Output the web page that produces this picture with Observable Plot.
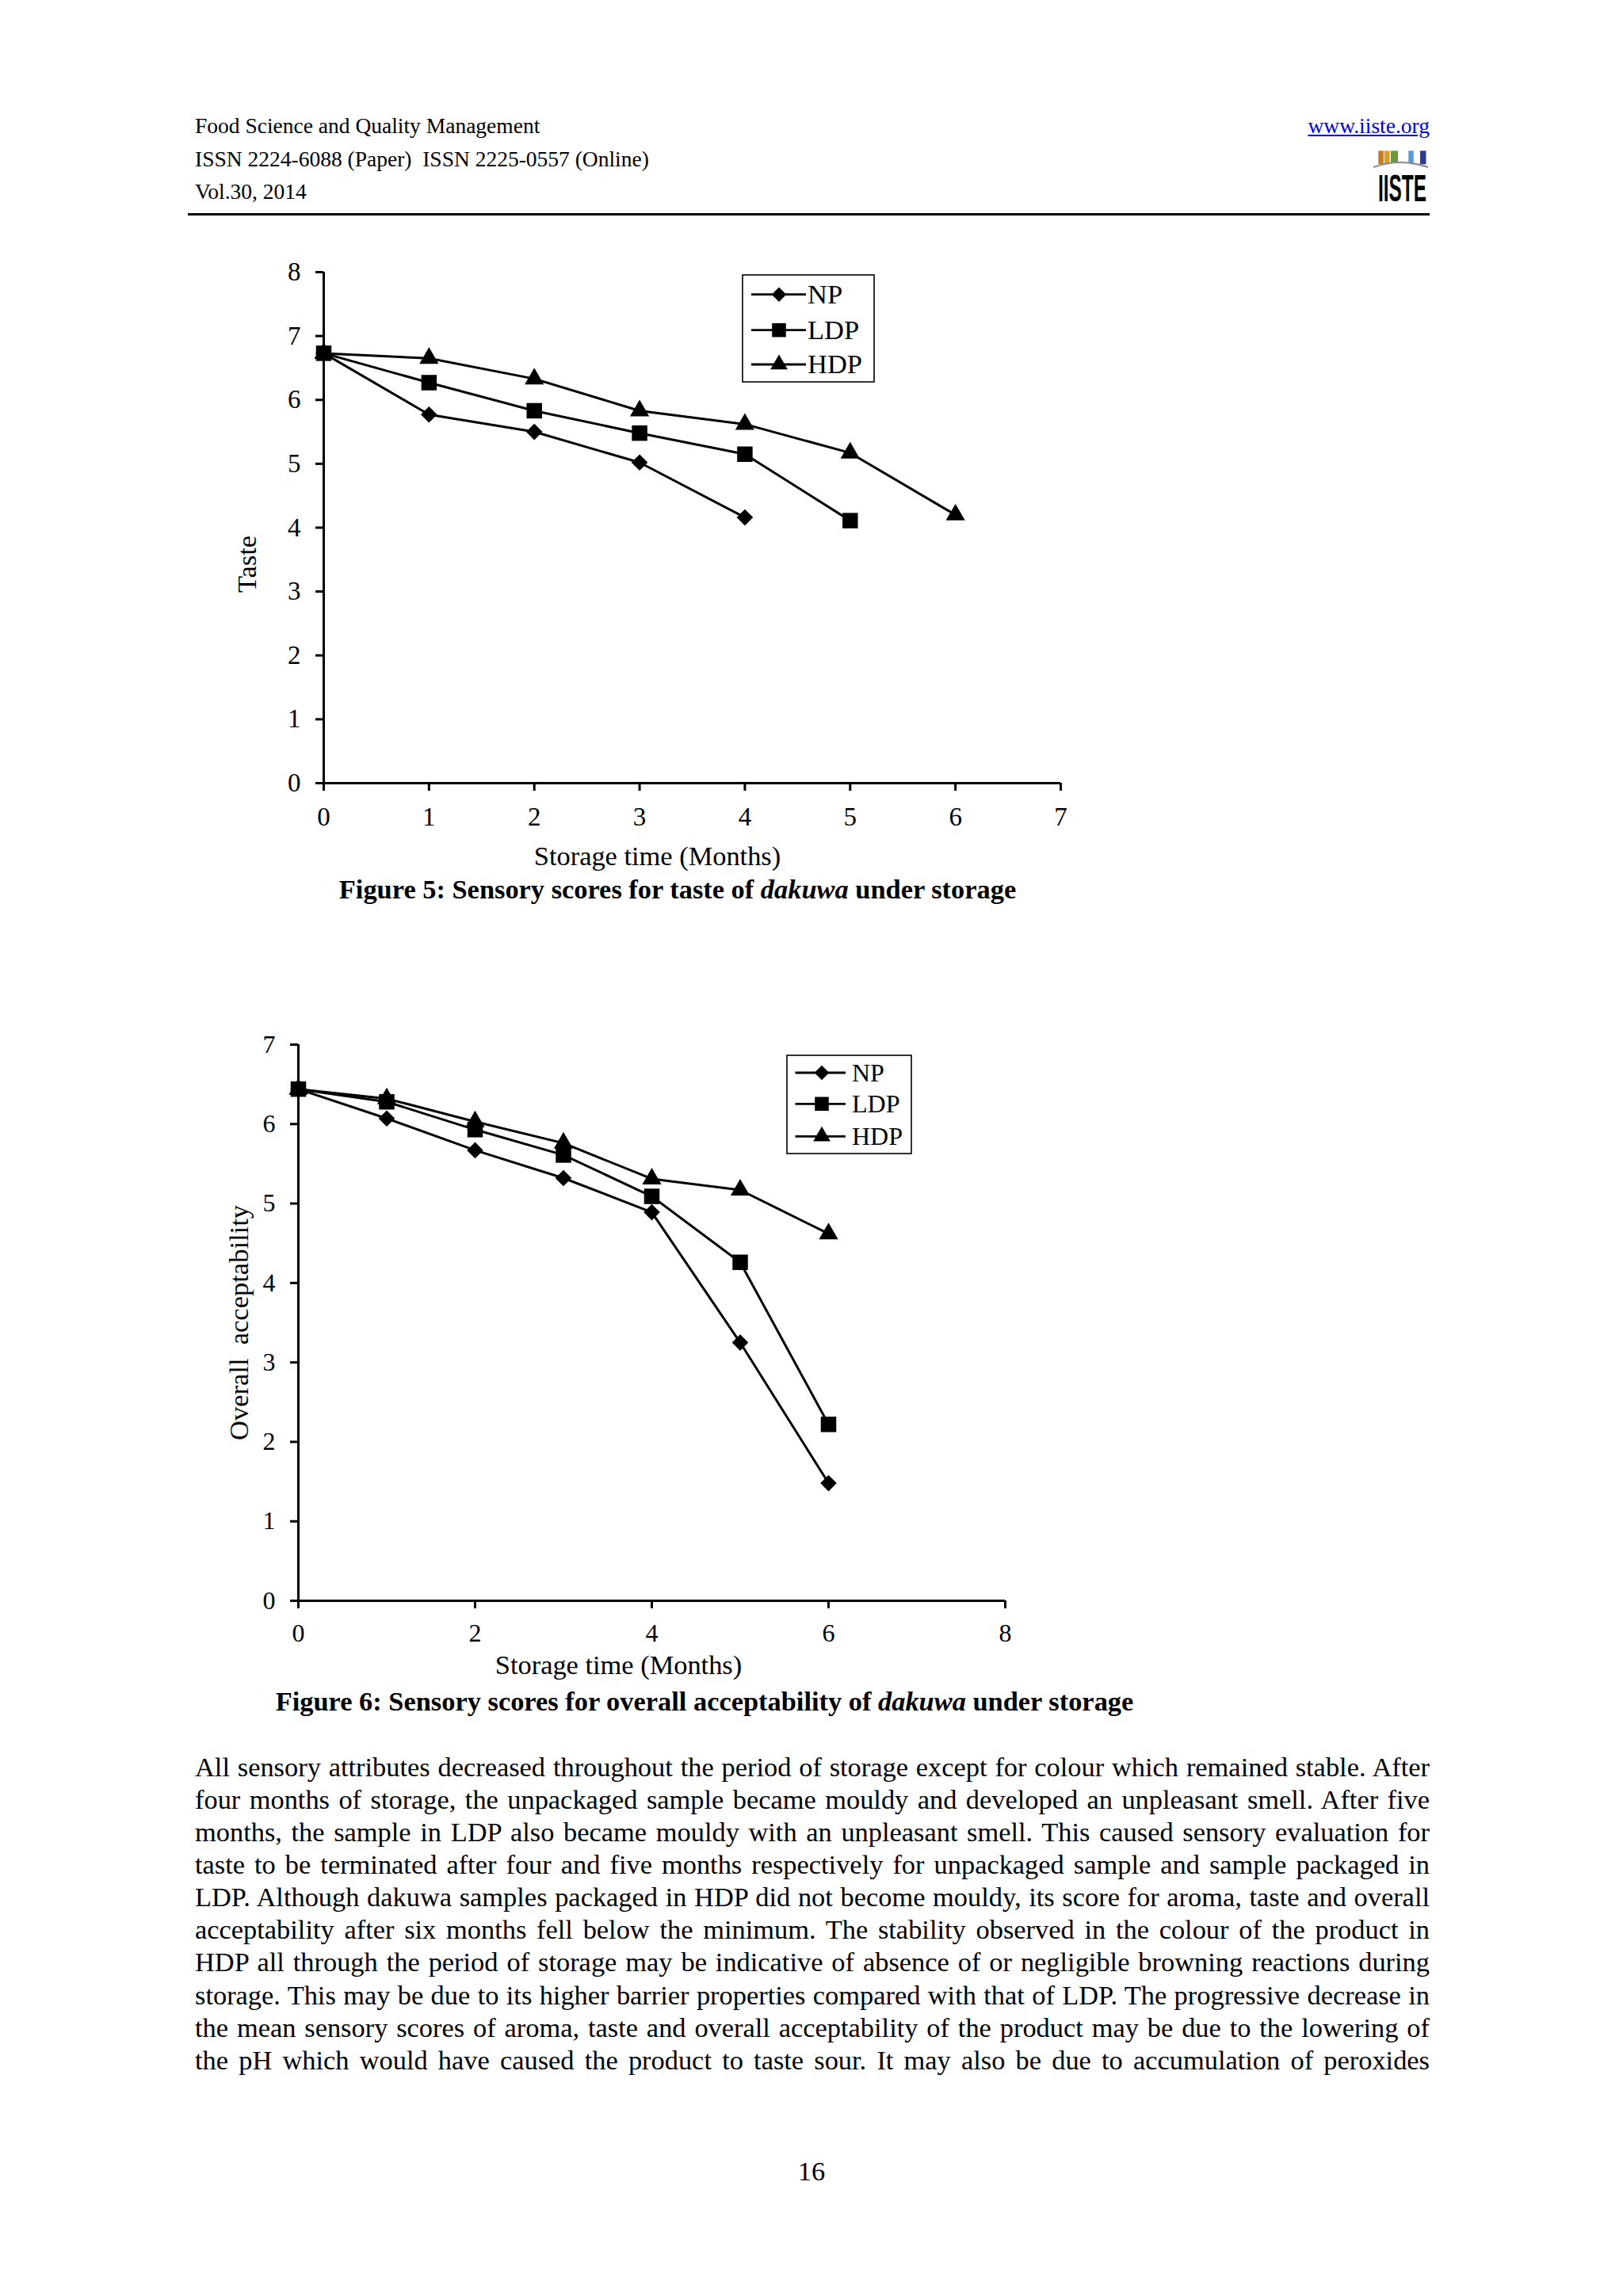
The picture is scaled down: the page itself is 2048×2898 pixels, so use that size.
<!DOCTYPE html>
<html><head><meta charset="utf-8">
<script src="https://cdn.jsdelivr.net/npm/d3@7"></script>
<script src="https://cdn.jsdelivr.net/npm/@observablehq/plot@0.6"></script>
<style>
html,body{margin:0;padding:0;background:#fff;}
#page{position:relative;width:2048px;height:2898px;background:#fff;overflow:hidden;font-family:"Liberation Serif","Times New Roman",serif;color:#000;}
.abs{position:absolute;white-space:pre;line-height:1;}
</style></head><body><div id="page"></div>
<script>
// ---------- data ----------
const months = [0, 1, 2, 3, 4, 5, 6];
const seriesNames = ["NP", "LDP", "HDP"];
// Figure 5: taste
const tasteNP  = [6.73, 5.77, 5.50, 5.02, 4.16];
const tasteLDP = [6.73, 6.27, 5.83, 5.48, 5.15, 4.11];
const tasteHDP = [6.73, 6.65, 6.33, 5.83, 5.62, 5.17, 4.20];
// Figure 6: overall acceptability
const overallNP  = [6.44, 6.07, 5.67, 5.32, 4.89, 3.25, 1.48];
const overallLDP = [6.44, 6.28, 5.93, 5.61, 5.09, 4.26, 2.22];
const overallHDP = [6.44, 6.32, 6.03, 5.76, 5.31, 5.17, 4.62];
const xTicks1 = [0, 1, 2, 3, 4, 5, 6, 7];
const yTicks1 = [0, 1, 2, 3, 4, 5, 6, 7, 8];
const xTicks2 = [0, 2, 4, 6, 8];
const yTicks2 = [0, 1, 2, 3, 4, 5, 6, 7];
const xTitle = "Storage time (Months)";
const yTitle1 = "Taste";
const yTitle2 = "Overall  acceptability";

const headerLines = ["Food Science and Quality Management", "ISSN 2224-6088 (Paper)  ISSN 2225-0557 (Online)", "Vol.30, 2014"];
const bodyLines = [
"All sensory attributes decreased throughout the period of storage except for colour which remained stable. After",
"four months of storage, the unpackaged sample became mouldy and developed an unpleasant smell. After five",
"months, the sample in LDP also became mouldy with an unpleasant smell. This caused sensory evaluation for",
"taste to be terminated after four and five months respectively for unpackaged sample and sample packaged in",
"LDP. Although dakuwa samples packaged in HDP did not become mouldy, its score for aroma, taste and overall",
"acceptability after six months fell below the minimum. The stability observed in the colour of the product in",
"HDP all through the period of storage may be indicative of absence of or negligible browning reactions during",
"storage. This may be due to its higher barrier properties compared with that of LDP. The progressive decrease in",
"the mean sensory scores of aroma, taste and overall acceptability of the product may be due to the lowering of",
"the pH which would have caused the product to taste sour. It may also be due to accumulation of peroxides"
];

// ---------- helpers ----------
const page = document.getElementById("page");
function place(html, x, baseline, size, opts = {}) {
  const d = document.createElement("div");
  d.className = "abs";
  d.innerHTML = html;
  d.style.fontSize = size + "px";
  d.style.left = x + "px";
  d.style.top = (baseline - 0.8375 * size) + "px";
  if (opts.weight) d.style.fontWeight = opts.weight;
  if (opts.color) d.style.color = opts.color;
  if (opts.underline) d.style.textDecoration = "underline";
  if (opts.anchor === "middle") d.style.transform = "translateX(-50%)";
  if (opts.anchor === "end") d.style.transform = "translateX(-100%)";
  page.appendChild(d);
  return d;
}
function rowsOf(arrs) {
  const rows = [];
  seriesNames.forEach((s, i) => arrs[i].forEach((v, j) => rows.push({series: s, month: months[j], value: v})));
  return rows;
}
const symbolOf = {NP: ["diamond2", 9.3], LDP: ["square", 11], HDP: ["triangle", 9]};

function chart(o) {
  const rows = rowsOf(o.arrs);
  const dots = ["NP", "HDP", "LDP"].map(s =>
    Plot.dot(rows.filter(r => r.series === s), {x: "month", y: "value", symbol: () => symbolOf[s][0], r: symbolOf[s][1], fill: "black", stroke: "none"}));
  const svg = Plot.plot({
    width: o.width, height: o.height,
    marginLeft: o.ml, marginRight: o.mr, marginTop: o.mt, marginBottom: o.mb,
    x: {domain: o.xDomain}, y: {domain: o.yDomain},
    symbol: {domain: ["diamond2", "square", "triangle"], range: ["diamond2", "square", "triangle"]},
    style: {fontFamily: "'Liberation Serif', 'Times New Roman', serif", fontSize: o.tickFont + "px", color: "black", background: "transparent", overflow: "visible", maxWidth: "none"},
    marks: [
      Plot.axisX({ticks: o.xTicks, tickSize: 10, tickPadding: o.xPad, strokeWidth: 3, label: null, fontSize: o.tickFont, tickFormat: d => String(d)}),
      Plot.axisY({ticks: o.yTicks, tickSize: 10, tickPadding: o.yPad, strokeWidth: 3, label: null, fontSize: o.tickFont, tickFormat: d => String(d)}),
      Plot.ruleX([0], {strokeWidth: 3, stroke: "black"}),
      Plot.ruleY([0], {strokeWidth: 3, stroke: "black"}),
      Plot.line(rows, {x: "month", y: "value", z: "series", stroke: "black", strokeWidth: 3}),
      ...dots,
      Plot.text([o.yTitle], {frameAnchor: "left", textAnchor: "middle", dx: o.ydx, dy: o.ydy, rotate: -90, fontSize: o.yTitleFont, fill: "black"}),
      Plot.text([xTitle], {frameAnchor: "bottom", textAnchor: "middle", dx: o.xdx, dy: o.xdy, fontSize: 34.4, fill: "black"})
    ]
  });
  const wrap = document.createElement("div");
  wrap.style.position = "absolute";
  wrap.style.left = o.left + "px";
  wrap.style.top = o.top + "px";
  wrap.style.width = o.width + "px";
  wrap.style.height = o.height + "px";
  wrap.appendChild(svg);
  page.appendChild(wrap);
}

function legend(o) {
  const ns = "http://www.w3.org/2000/svg";
  const svg = document.createElementNS(ns, "svg");
  svg.setAttribute("width", o.w + 4); svg.setAttribute("height", o.h + 4);
  svg.style.position = "absolute";
  svg.style.left = (o.left - 2) + "px"; svg.style.top = (o.top - 2) + "px";
  svg.style.overflow = "visible";
  let html = `<rect x="2" y="2" width="${o.w}" height="${o.h}" fill="white" stroke="black" stroke-width="1.6"/>`;
  const d3sym = {NP: d3.symbolDiamond2, LDP: d3.symbolSquare, HDP: d3.symbolTriangle};
  seriesNames.forEach((s, i) => {
    const y = 2 + o.rows[i];
    const r = symbolOf[s][1] * 0.9;
    const path = d3.symbol(d3sym[s], Math.PI * r * r)();
    html += `<line x1="${2 + o.lx1}" x2="${2 + o.lx2}" y1="${y}" y2="${y}" stroke="black" stroke-width="2.8"/>`;
    html += `<path d="${path}" transform="translate(${2 + o.mx},${y})" fill="black"/>`;
    html += `<text x="${2 + o.tx}" y="${y + o.font * 0.33}" font-family="'Liberation Serif', serif" font-size="${o.font}" fill="black">${s}</text>`;
  });
  svg.innerHTML = html;
  page.appendChild(svg);
}

// ---------- header ----------
place(headerLines[0], 246, 168, 27.5);
place(headerLines[1], 246, 210, 27.5);
place(headerLines[2], 246, 251, 27.5);
place("www.iiste.org", 1804, 168, 27.5, {anchor: "end", color: "#0000ee", underline: true});
{
  const rule = document.createElement("div");
  rule.style.cssText = "position:absolute;left:237px;top:269px;width:1567px;height:3px;background:#000;";
  page.appendChild(rule);
  const ns = "http://www.w3.org/2000/svg";
  const logo = document.createElementNS(ns, "svg");
  logo.setAttribute("width", 80); logo.setAttribute("height", 80);
  logo.style.cssText = "position:absolute;left:1730px;top:185px;overflow:visible";
  logo.innerHTML = `
    <rect x="9.3" y="5.3" width="6.5" height="17" fill="#c57b1f"/>
    <rect x="16.7" y="5.3" width="7" height="16" fill="#d9a12c"/>
    <rect x="25" y="5.3" width="9" height="15.5" fill="#6b9a3b"/>
    <rect x="47.3" y="5.3" width="6.5" height="15.5" fill="#5b9bd5"/>
    <rect x="62" y="5.3" width="7.5" height="17" fill="#2e3a8c"/>
    <path d="M3,26 Q37,14 72,26" fill="none" stroke="#8a8a8a" stroke-width="2.2"/>
    <text x="9" y="69" font-family="'Liberation Sans Narrow','Liberation Sans',sans-serif" font-weight="bold" font-size="48" textLength="61" lengthAdjust="spacingAndGlyphs">IISTE</text>`;
  page.appendChild(logo);
}

// ---------- Figure 5 ----------
chart({
  arrs: [tasteNP, tasteLDP, tasteHDP], left: 250, top: 300, width: 1150, height: 830,
  ml: 158, mr: 62, mt: 43, mb: 142, xDomain: [0, 7], yDomain: [0, 8],
  xTicks: xTicks1, yTicks: yTicks1, tickFont: 33, xPad: 20, yPad: 19,
  yTitle: yTitle1, yTitleFont: 34.4, ydx: -97, ydy: 46, xdx: -44, xdy: 103
});
legend({left: 937, top: 347, w: 166, h: 135, rows: [24.7, 69.7, 113], lx1: 11, lx2: 80, mx: 46, tx: 82, font: 34.5});
place("Figure 5: Sensory scores for taste of <i>dakuwa</i> under storage", 855, 1133.5, 34.4, {anchor: "middle", weight: "bold"});

// ---------- Figure 6 ----------
chart({
  arrs: [overallNP, overallLDP, overallHDP], left: 250, top: 1280, width: 1100, height: 880,
  ml: 126, mr: 82, mt: 38, mb: 140, xDomain: [0, 8], yDomain: [0, 7],
  xTicks: xTicks2, yTicks: yTicks2, tickFont: 32, xPad: 19, yPad: 19,
  yTitle: yTitle2, yTitleFont: 34.5, ydx: -75, ydy: 0, xdx: -42, xdy: 92
});
legend({left: 993, top: 1332, w: 157, h: 124, rows: [22, 61.3, 102.3], lx1: 10.5, lx2: 74, mx: 44, tx: 82, font: 32});
place("Figure 6: Sensory scores for overall acceptability of <i>dakuwa</i> under storage", 889, 2159, 34.4, {anchor: "middle", weight: "bold"});

// ---------- body text ----------
const bodyLeft = 246, bodyWidth = 1558, bodyBase = 2241.5, bodyStep = 41.13, bodySize = 34.4;
bodyLines.forEach((line, i) => {
  const d = place(line, bodyLeft, bodyBase + i * bodyStep, bodySize);
  const w = d.getBoundingClientRect().width;
  const spaces = (line.match(/ /g) || []).length;
  d.style.wordSpacing = ((bodyWidth - w) / spaces) + "px";
});
place("16", 1024, 2752, 34.4, {anchor: "middle"});
</script>
</body></html>
